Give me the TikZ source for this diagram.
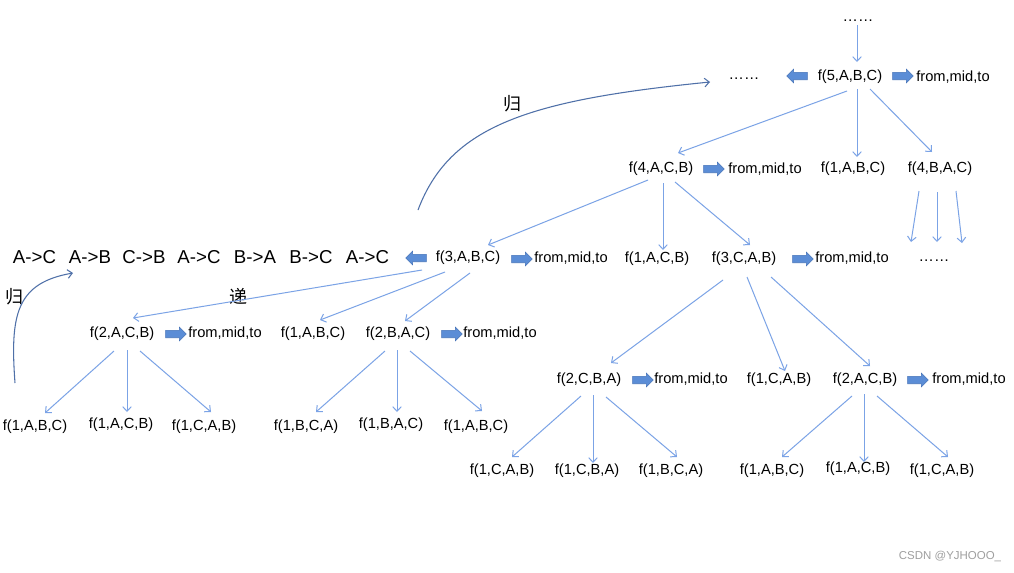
\documentclass[tikz,border=0pt]{standalone}
\usepackage{fontspec}
\setmainfont{Liberation Sans}
\newfontfamily\cjk{Noto Sans CJK SC}
\usetikzlibrary{arrows.meta,shapes.arrows,calc}
\definecolor{edgeblue}{HTML}{7BA3E6}
\definecolor{curveblue}{HTML}{4F70A8}
\definecolor{blockfill}{HTML}{5B8DD6}
\definecolor{blockline}{HTML}{4472B8}
\tikzset{
  fn/.style={inner sep=0pt, font=\fontsize{11}{13}\selectfont},
  mv/.style={inner sep=0pt, font=\fontsize{14}{16}\selectfont},
  dots/.style={inner sep=0pt, font=\fontsize{11.5}{13}\selectfont},
  han/.style={inner sep=0pt, font=\cjk\fontsize{13.5}{15}\selectfont},
  barr/.style={single arrow, draw=blockline, fill=blockfill, line width=0.4pt,
    inner sep=2.6pt, single arrow head extend=2.3pt, minimum height=15.5pt},
  barl/.style={barr, shape border rotate=180},
  edge/.style={draw=edgeblue, line width=0.75pt, -{Straight Barb[length=3.5pt,width=6.5pt]}},
  curve/.style={draw=curveblue, line width=0.8pt, -{Straight Barb[length=3.5pt,width=6.5pt]}},
}
\begin{document}
\begin{tikzpicture}[x=0.75pt,y=-0.75pt]
\useasboundingbox[fill=white] (0,0) rectangle (1014,572);
% row 0/1
\node[dots] (dtop) at (858,21) {……};
\node[fn] (f5) at (850,77) {f(5,A,B,C)};
\node[dots] (dl) at (744,79) {……};
\node[barl] (bal5) at (799,76) {};
\node[barr] (bar5) at (901,76) {};
\node[fn] (fm5) at (953,77) {from,mid,to};
% row 2
\node[fn] (f4a) at (661,169) {f(4,A,C,B)};
\node[barr] (ba4) at (712,169) {};
\node[fn] (fm4) at (765,169) {from,mid,to};
\node[fn] (f1a) at (853,169) {f(1,A,B,C)};
\node[fn] (f4b) at (940,169) {f(4,B,A,C)};
% row 3
\node[fn] (f3a) at (468,258) {f(3,A,B,C)};
\node[barl] (bal3) at (418,258) {};
\node[barr] (ba3) at (520,259) {};
\node[fn] (fm3) at (571,258) {from,mid,to};
\node[fn] (f1b) at (657,259) {f(1,A,C,B)};
\node[fn] (f3c) at (744,259) {f(3,C,A,B)};
\node[barr] (ba3c) at (801,259) {};
\node[fn] (fm3c) at (852,258) {from,mid,to};
\node[dots] (dr) at (934,261) {……};
% moves
\node[mv] (m1) at (34.5,257) {A->C};
\node[mv] (m2) at (90,257) {A->B};
\node[mv] (m3) at (144,257) {C->B};
\node[mv] (m4) at (199,257) {A->C};
\node[mv] (m5) at (255,257) {B->A};
\node[mv] (m6) at (311,257) {B->C};
\node[mv] (m7) at (367.5,257) {A->C};
% row 4
\node[fn] (f2a) at (122,334) {f(2,A,C,B)};
\node[barr] (ba2a) at (174,334) {};
\node[fn] (fm2a) at (225,333) {from,mid,to};
\node[fn] (f1c) at (313,334) {f(1,A,B,C)};
\node[fn] (f2b) at (398,334) {f(2,B,A,C)};
\node[barr] (ba2b) at (450,334) {};
\node[fn] (fm2b) at (500,333) {from,mid,to};
% row 5
\node[fn] (g1) at (35,427) {f(1,A,B,C)};
\node[fn] (g2) at (121,425) {f(1,A,C,B)};
\node[fn] (g3) at (204,427) {f(1,C,A,B)};
\node[fn] (g4) at (306,427) {f(1,B,C,A)};
\node[fn] (g5) at (391,425) {f(1,B,A,C)};
\node[fn] (g6) at (476,427) {f(1,A,B,C)};
% row 6
\node[fn] (f2c) at (589,380) {f(2,C,B,A)};
\node[barr] (ba2c) at (641,380) {};
\node[fn] (fm2c) at (691,379) {from,mid,to};
\node[fn] (f1d) at (779,380) {f(1,C,A,B)};
\node[fn] (f2d) at (865,380) {f(2,A,C,B)};
\node[barr] (ba2d) at (916,380) {};
\node[fn] (fm2d) at (969,379) {from,mid,to};
% row 7
\node[fn] (h1) at (502,471) {f(1,C,A,B)};
\node[fn] (h2) at (587,471) {f(1,C,B,A)};
\node[fn] (h3) at (671,471) {f(1,B,C,A)};
\node[fn] (h4) at (772,471) {f(1,A,B,C)};
\node[fn] (h5) at (858,469) {f(1,A,C,B)};
\node[fn] (h6) at (942,471) {f(1,C,A,B)};
% labels
\node[han] (gui1) at (512,104) {归};
\node[han] (di) at (238,296) {递};
\node[han] (gui2) at (14,297) {归};
\node[inner sep=0pt, text=gray!75, font=\fontsize{8.6}{10}\selectfont] (wm) at (950,556) {CSDN @YJHOOO\_};
% edges
\draw[edge] ($(dtop)+(-1,4)$) -- ($(f5)+(7,-15)$);
\draw[edge] ($(f5)+(-3,14)$) -- ($(f4a)+(17,-16)$);
\draw[edge] ($(f5)+(7,12)$) -- ($(f1a)+(4,-12)$);
\draw[edge] ($(f5)+(20,12)$) -- ($(f4b)+(-8,-17)$);
\draw[edge] ($(f4a)+(-13,11)$) -- ($(f3a)+(20,-13)$);
\draw[edge] ($(f4a)+(2,14)$) -- ($(f1b)+(6,-9)$);
\draw[edge] ($(f4a)+(14,13)$) -- ($(f3c)+(6,-14)$);
\draw[edge] ($(f4b)+(-21,22)$) -- ($(dr)+(-23,-19)$);
\draw[edge] ($(f4b)+(-3,23)$) -- ($(dr)+(3,-19)$);
\draw[edge] ($(f4b)+(16,22)$) -- ($(dr)+(28,-18)$);
\draw[edge] ($(f3a)+(-46,12)$) -- ($(f2a)+(11,-16)$);
\draw[edge] ($(f3a)+(-23,14)$) -- ($(f1c)+(7,-14)$);
\draw[edge] ($(f3a)+(2,15)$) -- ($(f2b)+(7,-13)$);
\draw[edge] ($(f2a)+(-8,17)$) -- ($(g1)+(10,-14)$);
\draw[edge] ($(f2a)+(5,16)$) -- ($(g2)+(6,-13)$);
\draw[edge] ($(f2a)+(18,17)$) -- ($(g3)+(7,-15)$);
\draw[edge] ($(f2b)+(-13,17)$) -- ($(g4)+(10,-15)$);
\draw[edge] ($(f2b)+(-1,16)$) -- ($(g5)+(6,-13)$);
\draw[edge] ($(f2b)+(12,17)$) -- ($(g6)+(6,-16)$);
\draw[edge] ($(f3c)+(-21,21)$) -- ($(f2c)+(22,-17)$);
\draw[edge] ($(f3c)+(3,18)$) -- ($(f1d)+(6,-9)$);
\draw[edge] ($(f3c)+(27,18)$) -- ($(f2d)+(5,-14)$);
\draw[edge] ($(f2c)+(-8,16)$) -- ($(h1)+(10,-14)$);
\draw[edge] ($(f2c)+(4,15)$) -- ($(h2)+(6,-8)$);
\draw[edge] ($(f2c)+(17,17)$) -- ($(h3)+(6,-14)$);
\draw[edge] ($(f2d)+(-13,16)$) -- ($(h4)+(10,-14)$);
\draw[edge] ($(f2d)+(-1,14)$) -- ($(h5)+(6,-7)$);
\draw[edge] ($(f2d)+(12,16)$) -- ($(h6)+(6,-14)$);
% curves
\coordinate (cs) at (418,210);
\draw[curve] (cs) .. controls (450,125) and (530,100) .. ($(dl)+(-34,3)$);
\draw[curve] ($(g1)+(-20,-44)$) .. controls (10,315) and (16,283) .. ($(m2)+(-17,16)$);
\end{tikzpicture}
\end{document}
